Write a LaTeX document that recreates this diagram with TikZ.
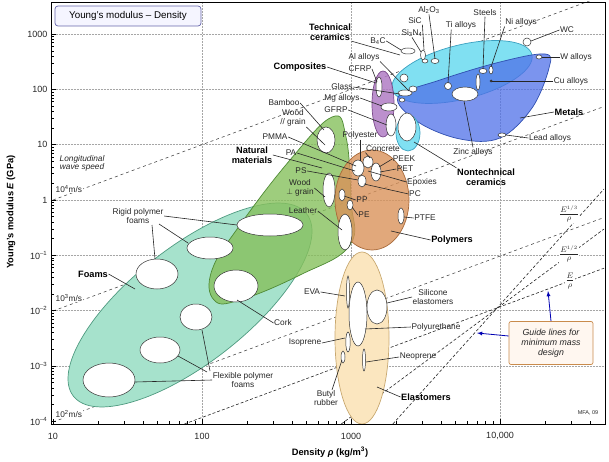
\documentclass[tikz,border=0pt]{standalone}
\usepackage{fontspec}
\setmainfont{Liberation Sans}
\begin{document}
\begin{tikzpicture}[x=1pt,y=-1pt,
  lbl/.style={font=\fontsize{8.3}{8.9}\selectfont,inner sep=0.5pt,align=center,text=black!85},
  blb/.style={font=\bfseries\fontsize{9.2}{10.2}\selectfont,inner sep=0.5pt,align=center},
  lead/.style={draw=black!85,line width=0.6pt},
  bub/.style={draw=black!80,fill=white,line width=0.5pt},
  env/.style={line width=0.7pt},
  grd/.style={gray!70,densely dotted,line width=0.5pt},
  wave/.style={black!75,dashed,line width=0.55pt},
  guide/.style={black!85,densely dashed,line width=0.6pt}]
\definecolor{foamc}{HTML}{A6E2CC}\definecolor{foamd}{HTML}{4F9A80}
\definecolor{natc}{HTML}{86C05C}\definecolor{natd}{HTML}{4F8A35}
\definecolor{polc}{HTML}{D9925A}\definecolor{pold}{HTML}{A86A3A}
\definecolor{elac}{HTML}{FBE6BF}\definecolor{elad}{HTML}{C8A870}
\definecolor{comc}{HTML}{B07CC4}\definecolor{comd}{HTML}{7A4A8A}
\definecolor{tecc}{HTML}{80E0F2}\definecolor{tecd}{HTML}{3AA0C0}
\definecolor{metc}{HTML}{4F70E8}\definecolor{metd}{HTML}{2F4FB0}
\useasboundingbox (0,0) rectangle (609,462);
% grid
\foreach \gx in {202,351,500} \draw[grd] (\gx,2) -- (\gx,424);
\foreach \gy in {34,89.4,144.7,200,255.3,310.6,366} \draw[grd] (51,\gy) -- (605,\gy);
% dashed lines
\begin{scope}
\clip (51,2) rectangle (605,424);
\draw[wave] (53,200) -- (604,-4.5);
\draw[wave] (53,311) -- (604,106.5);
\draw[wave] (53,422) -- (604,217.5);
\draw[guide] (184.4,424) -- (604,268.2);
\draw[guide] (341.3,424) -- (604,229);
\draw[guide] (392.8,424) -- (604,189);
\end{scope}
% envelopes
\draw[env,fill=foamc,draw=foamd,rotate around={38:(190,305)}] (190,305) ellipse (148 and 58);
\draw[env,fill=natc,draw=natd,fill opacity=0.8] plot[smooth cycle,tension=0.7] coordinates {(332,117) (346,137) (351,200) (350,245) (300,275) (240,300) (214,300) (212,270) (240,225) (290,160)};
\draw[env,fill=polc,draw=pold,fill opacity=0.8] (372,200) ellipse (37 and 50);
\draw[env,fill=elac,draw=elad] (362,338) ellipse (27 and 86);
\draw[env,fill=tecc,draw=tecd,rotate around={14:(462,72)}] (462,72) ellipse (72 and 27);
\draw[env,fill=metc,draw=metd,fill opacity=0.75] plot[smooth cycle,tension=0.6] coordinates {(398,97) (440,80) (500,62) (545,54) (549,68) (532,108) (500,138) (460,139) (418,122)};
\draw[env,fill=comc,draw=comd,fill opacity=0.85] (383,104) ellipse (11 and 33);
\draw[env,fill=tecc,draw=tecd] (408,133) ellipse (12 and 18);
% bubbles: foams
\draw[bub] (157,274) ellipse (21 and 15);
\draw[bub] (210,248) ellipse (23 and 11);
\draw[bub] (270,225) ellipse (33 and 11);
\draw[bub] (236,286) ellipse (22 and 16);
\draw[bub] (196,317) ellipse (16 and 13);
\draw[bub] (160,350) ellipse (20 and 13);
\draw[bub] (109,380) ellipse (26 and 17);
% natural
\draw[bub] (326,140) ellipse (9 and 13);
\draw[bub] (329,190) ellipse (6 and 17);
\draw[bub] (345,232) ellipse (7 and 18);
% polymers
\draw[bub] (358,168) ellipse (6 and 8);
\draw[bub] (368,162) ellipse (5 and 6);
\draw[bub] (376,172) ellipse (5 and 9);
\draw[bub] (362,181) ellipse (4 and 6);
\draw[bub] (342,195) ellipse (3 and 6);
\draw[bub] (350,205) ellipse (3 and 5);
\draw[bub] (401,216) ellipse (3 and 8);
% composites & ceramics & metals
\draw[bub] (379,87) ellipse (3 and 10);
\draw[bub] (391,125) ellipse (5 and 11);
\draw[bub] (389,107) ellipse (8 and 4);
\draw[bub] (407,127) ellipse (9 and 14);
\draw[bub] (405,93) ellipse (7 and 3);
\draw[bub] (413,89) ellipse (4 and 3);
\draw[bub] (404,78) ellipse (4 and 4);
\draw[bub] (402,100) ellipse (3 and 2);
\draw[bub] (408,51) ellipse (7 and 3);
\draw[bub] (423,55) ellipse (2.5 and 5);
\draw[bub] (425,61) ellipse (3 and 2);
\draw[bub] (435,61) ellipse (4 and 2.5);
\draw[bub] (448,86) ellipse (3.5 and 3.5);
\draw[bub] (483,71) ellipse (4 and 2.5);
\draw[bub] (491,70) ellipse (2 and 4);
\draw[bub] (465,94) ellipse (13 and 7);
\draw[bub] (478,82) ellipse (2 and 8);
\fill[black!80] (491,81) circle (1.5);
\draw[bub] (527,42) ellipse (4 and 4);
\draw[bub] (539,57) ellipse (3 and 2);
\draw[bub] (502,135) ellipse (4 and 2);
% elastomers
\draw[bub] (348,292) ellipse (1.5 and 16);
\draw[bub] (358,314) ellipse (9 and 32);
\draw[bub] (377,307) ellipse (10 and 17);
\draw[bub] (348,342) ellipse (2.2 and 10);
\draw[bub] (343,357) ellipse (2 and 6);
\draw[bub] (364,360) ellipse (1.5 and 11);
% ---- labels
\node[lbl,anchor=west] (lws) at (59,163) {\itshape Longitudinal\\[-1pt]\itshape wave speed};
\node[lbl,anchor=west,fill=white] (w4) at (55,189) {10\textsuperscript{4}m/s};
\node[lbl,anchor=west,fill=white] (w3) at (55,298) {10\textsuperscript{3}m/s};
\node[lbl,anchor=west,fill=white] (w2) at (55,414) {10\textsuperscript{2}m/s};
\node[lbl,fill=white,font=\fontsize{11}{12}\selectfont] (e3) at (569,214) {$\frac{E^{1/3}}{\rho}$};
\node[lbl,fill=white,font=\fontsize{11}{12}\selectfont] (e2) at (569,254) {$\frac{E^{1/2}}{\rho}$};
\node[lbl,fill=white,font=\fontsize{11}{12}\selectfont] (e1) at (570,281) {$\frac{E}{\rho}$};
\node[lbl,font=\fontsize{5.5}{6}\selectfont] (mfa) at (588,413) {MFA, 09};
\node[font=\fontsize{9.8}{10}\selectfont,draw=blue!45!black!60,fill=blue!4,rounded corners=3pt,line width=0.7pt,minimum width=146pt,minimum height=20pt] (title) at (128,16) {Young’s modulus – Density};

% technical ceramics
\node[blb] (tc) at (330,32) {Technical\\ceramics};
\coordinate (tcT) at (400,55); \draw[lead] (tc.south east) -- (tcT);
\node[lbl] (b4c) at (378,41) {B\textsubscript{4}C};
\coordinate (b4cT) at (401,50); \draw[lead] (b4c.east) -- (b4cT);
\node[lbl] (si3) at (412,33) {Si\textsubscript{3}N\textsubscript{4}};
\coordinate (si3T) at (421,52); \draw[lead] (si3.south) -- (si3T);
\node[lbl] (sic) at (415,21) {SiC};
\coordinate (sicT) at (424,50); \draw[lead] (sic.south east) -- (sicT);
\node[lbl] (alo) at (429,10) {Al\textsubscript{2}O\textsubscript{3}};
\coordinate (aloT) at (435,59); \draw[lead] (alo.south) -- (aloT);
\node[lbl] (ti) at (461,25) {Ti alloys};
\coordinate (tiT) at (448,83); \draw[lead] (ti.south west) ++(6,0) -- (tiT);
\node[lbl] (st) at (485,13) {Steels};
\coordinate (stT) at (483,69); \draw[lead] (st.south) -- (stT);
\node[lbl] (ni) at (521,22) {Ni alloys};
\coordinate (niT) at (491,67); \draw[lead] (ni.south west) -- (niT);
\node[lbl] (wc) at (567,30) {WC};
\coordinate (wcT) at (531,41); \draw[lead] (wc.west) -- (wcT);
\node[lbl] (wal) at (576,57) {W alloys};
\coordinate (walT) at (542,57); \draw[lead] (wal.west) -- (walT);
\node[lbl] (cu) at (571,81) {Cu alloys};
\coordinate (cuT) at (492,81); \draw[lead] (cu.west) -- (cuT);
\node[blb] (met) at (569,112) {Metals};
\coordinate (metT) at (520,118); \draw[lead] (met.west) -- (metT);
\node[lbl] (pb) at (550,138) {Lead alloys};
\coordinate (pbT) at (506,135); \draw[lead] (pb.west) -- (pbT);
\node[lbl] (zn) at (473,152) {Zinc alloys};
\coordinate (znT) at (464,101); \draw[lead] (zn.north) -- (znT);
\node[blb] (ntc) at (486,177) {Nontechnical\\ceramics};
\coordinate (ntcT) at (414,142); \draw[lead] (ntc.north west) -- (ntcT);
% composites
\node[blb] (comp) at (300,67) {Composites};
\coordinate (compT) at (376,83); \draw[lead] (comp.east) -- (compT);
\node[lbl] (al) at (364,57) {Al alloys};
\coordinate (alT) at (409,91); \draw[lead] (al.south east) -- (alT);
\node[lbl] (cfrp) at (360,69) {CFRP};
\coordinate (cfrpT) at (377,82); \draw[lead] (cfrp.east) -- (cfrpT);
\node[lbl] (gl) at (342,87) {Glass};
\coordinate (glT) at (400,94); \draw[lead] (gl.east) -- (glT);
\node[lbl] (mg) at (342,98) {Mg alloys};
\coordinate (mgT) at (382,106); \draw[lead] (mg.east) -- (mgT);
\node[lbl] (gfrp) at (336,110) {GFRP};
\coordinate (gfrpT) at (387,125); \draw[lead] (gfrp.east) -- (gfrpT);
% natural
\node[lbl] (bam) at (284,103) {Bamboo};
\coordinate (bamT) at (324,130); \draw[lead] (bam.east) -- (bamT);
\node[lbl] (wg) at (293,118) {Wood\\// grain};
\coordinate (wgT) at (325,145); \draw[lead] (wg.south east) -- (wgT);
\node[lbl] (pmma) at (275,137) {PMMA};
\coordinate (pmmaT) at (356,166); \draw[lead] (pmma.east) -- (pmmaT);
\node[blb] (nat) at (252,155) {Natural\\materials};
\coordinate (natT) at (322,168); \draw[lead] (nat.east) -- (natT);
\node[lbl] (pa) at (291,153) {PA};
\coordinate (paT) at (355,171); \draw[lead] (pa.east) -- (paT);
\node[lbl] (ps) at (301,171) {PS};
\coordinate (psT) at (358,180); \draw[lead] (ps.east) -- (psT);
\node[lbl] (wp) at (300,188) {Wood\\$\perp$ grain};
\coordinate (wpT) at (325,197); \draw[lead] (wp.east) -- (wpT);
\node[lbl] (lea) at (303,211) {Leather};
\coordinate (leaT) at (342,230); \draw[lead] (lea.east) -- (leaT);
% polymers
\node[lbl] (pes) at (360,135) {Polyester};
\coordinate (pesT) at (360,161); \draw[lead] (pes.south) -- (pesT);
\node[lbl] (con) at (383,149) {Concrete};
\coordinate (conT) at (370,158); \draw[lead] (con.south west) -- (conT);
\node[lbl] (peek) at (404,159) {PEEK};
\coordinate (peekT) at (379,167); \draw[lead] (peek.west) -- (peekT);
\node[lbl] (pet) at (405,169) {PET};
\coordinate (petT) at (380,172); \draw[lead] (pet.west) -- (petT);
\node[lbl] (epo) at (422,182) {Epoxies};
\coordinate (epoT) at (368,171); \draw[lead] (epo.west) -- (epoT);
\node[lbl] (pc) at (415,194) {PC};
\coordinate (pcT) at (364,184); \draw[lead] (pc.west) -- (pcT);
\node[lbl] (pp) at (362,200) {PP};
\coordinate (ppT) at (344,196); \draw[lead] (pp.west) -- (ppT);
\node[lbl] (pe) at (364,215) {PE};
\coordinate (peT) at (352,207); \draw[lead] (pe.west) -- (peT);
\node[lbl] (ptfe) at (425,218) {PTFE};
\coordinate (ptfeT) at (404,217); \draw[lead] (ptfe.west) -- (ptfeT);
\node[blb] (pol) at (452,240) {Polymers};
\coordinate (polT) at (391,231); \draw[lead] (pol.west) -- (polT);
% foams
\node[lbl] (rpf) at (138,216) {Rigid polymer\\foams};
\coordinate (rpf1) at (237,225); \coordinate (rpf2) at (188,243); \coordinate (rpf3) at (155,259);
\draw[lead] (rpf.east) -- (rpf1);
\draw[lead] (159,224) -- (rpf2);
\draw[lead] (152,225) -- (rpf3);
\node[blb] (foams) at (93,274) {Foams};
\coordinate (foamsT) at (135,289); \draw[lead] (foams.east) -- (foamsT);
\node[lbl] (cork) at (283,323) {Cork};
\coordinate (corkT) at (237,300); \draw[lead] (cork.west) -- (corkT);
\node[lbl] (fpf) at (243,380) {Flexible polymer\\foams};
\coordinate (fpf1) at (202,330); \coordinate (fpf2) at (178,356); \coordinate (fpf3) at (135,382);
\draw[lead] (210,371) -- (fpf1);
\draw[lead] (207,372) -- (fpf2);
\draw[lead] (fpf.west) -- (fpf3);
% elastomers
\node[lbl] (eva) at (312,292) {EVA};
\coordinate (evaT) at (345,296); \draw[lead] (eva.east) -- (evaT);
\node[lbl] (sil) at (433,297) {Silicone\\elastomers};
\coordinate (silT) at (387,303); \draw[lead] (sil.west) -- (silT);
\node[lbl] (pu) at (436,327) {Polyurethane};
\coordinate (puT) at (365,329); \draw[lead] (pu.west) -- (puT);
\node[lbl] (iso) at (305,343) {Isoprene};
\coordinate (isoT) at (345,338); \draw[lead] (iso.east) -- (isoT);
\node[lbl] (neo) at (418,357) {Neoprene};
\coordinate (neoT) at (366,362); \draw[lead] (neo.west) -- (neoT);
\node[lbl] (bu) at (326,398) {Butyl\\rubber};
\coordinate (buT) at (342,360); \draw[lead] (bu.north) ++(6,0) -- (buT);
\node[blb] (ela) at (426,397) {Elastomers};
\coordinate (elaT) at (377,387); \draw[lead] (ela.west) -- (elaT);
% guide box
\node[lbl,font=\itshape\fontsize{8.8}{10.2}\selectfont,draw=orange!70!black!70,fill=orange!6,rounded corners=2pt,line width=0.7pt,minimum width=84pt,minimum height=43pt] (gd) at (551,343) {Guide lines for\\minimum mass\\design};
\coordinate (gdA) at (477,333); \coordinate (gdB) at (548,291);
\draw[blue!70!black,line width=0.8pt,-latex] (gd.west) ++(0,-7) -- (gdA);
\draw[blue!70!black,line width=0.8pt,-latex] (gd.north) -- (gdB);
% frame and ticks
\draw[line width=0.9pt] (51,2) rectangle (605,424);
\foreach \d in {0,1,2,3} {
  \foreach \m in {2,...,9} {
    \pgfmathsetmacro\tx{53+149*(\d+ln(\m)/ln(10))}
    \ifdim\tx pt<604pt \draw[line width=0.4pt] (\tx,424) -- (\tx,421); \fi
  }
  \draw[line width=0.5pt] ({53+149*\d},424) -- ({53+149*\d},419);
}
\foreach \d in {-4,...,2} {
  \foreach \m in {2,...,9} {
    \pgfmathsetmacro\ty{200-55.3*(\d+ln(\m)/ln(10))}
    \draw[line width=0.4pt] (51,\ty) -- (54,\ty);
  }
}
\foreach \d in {-4,...,3} \draw[line width=0.5pt] (51,{200-55.3*\d}) -- (56,{200-55.3*\d});
% axis labels
\foreach \v/\t in {0/10,1/100,2/1000,3/{10,000}} \node[lbl,font=\fontsize{9}{10}\selectfont] at ({53+149*\v},436) {\t};
\foreach \v/\t in {3/1000,2/100,1/10,0/1,-1/{10\textsuperscript{–1}},-2/{10\textsuperscript{–2}},-3/{10\textsuperscript{–3}},-4/{10\textsuperscript{–4}}}
  \node[lbl,anchor=east,font=\fontsize{9}{10}\selectfont] at (48,{200-55.3*\v}) {\t};
\node[font=\bfseries\fontsize{9.3}{10}\selectfont] (xl) at (330,452) {Density \textit{ρ} (kg/m\textsuperscript{3})};
\node[font=\bfseries\fontsize{9.3}{10}\selectfont,rotate=90] (yl) at (11,212) {Young’s modulus \textit{E} (GPa)};
\end{tikzpicture}
\end{document}
